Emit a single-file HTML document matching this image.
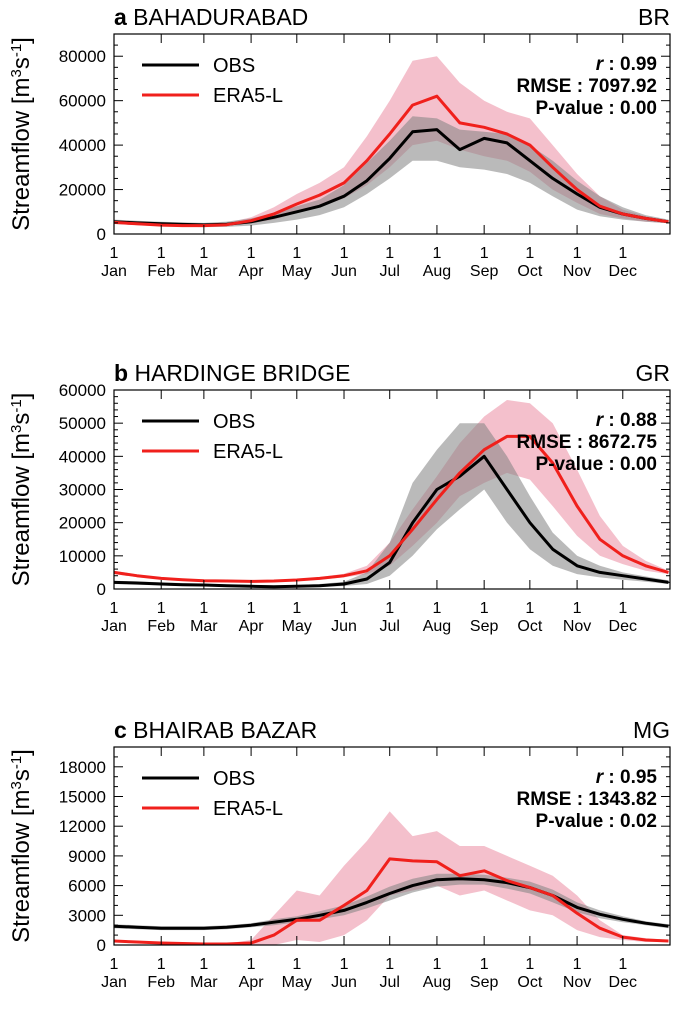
<!DOCTYPE html>
<html><head><meta charset="utf-8"><style>
html,body{margin:0;padding:0;background:#fff;}
svg{display:block;font-family:"Liberation Sans",Arial,sans-serif;}
</style></head><body>
<svg id="chart" width="685" height="1009" viewBox="0 0 685 1009" xmlns="http://www.w3.org/2000/svg"></svg>
<script>
const days = [0,15,31,45,59,74,90,105,120,135,151,166,181,196,212,227,243,258,273,288,304,319,334,349,364];
const monthLabels = ["Jan","Feb","Mar","Apr","May","Jun","Jul","Aug","Sep","Oct","Nov","Dec"];
const monthStarts = [0,31,59,90,120,151,181,212,243,273,304,334];

const aObsMean = [5500,5000,4600,4300,4100,4400,5500,7500,10000,12500,17000,24000,34000,46000,47000,38000,43000,41000,33000,25000,18000,12000,9000,7000,5500];
const aObsLo = [4500,4000,3600,3300,3100,3200,3800,5000,6500,8500,12000,18000,25000,33000,33000,30000,29000,27000,23000,17000,11000,8000,6500,5500,4800];
const aObsHi = [6500,6000,5500,5200,5000,5600,7000,9500,12500,15500,22000,32000,42000,53000,52000,47000,46000,45000,40000,33000,24000,17000,12000,8500,6500];
const aEraMean = [5200,4600,4000,3800,3800,4200,6000,9000,13500,17500,23000,33000,45000,58000,62000,50000,48000,45000,40000,30000,20000,12500,9000,7000,5500];
const aEraLo = [4600,4000,3500,3300,3300,3600,4800,6500,9500,12000,16000,22000,30000,40000,42000,38000,35000,33000,28000,20000,14000,9000,7000,5500,4800];
const aEraHi = [5800,5200,4600,4300,4400,5000,7500,12000,18000,23000,30000,44000,60000,78000,80000,68000,60000,55000,52000,40000,27000,17000,11000,8000,6200];

const bObsMean = [2000,1800,1500,1300,1200,1000,800,700,800,1000,1500,3000,8000,20000,30000,34000,40000,30000,20000,12000,7000,5000,4000,3000,2000];
const bObsLo = [1500,1300,1100,900,800,700,500,400,500,600,900,1500,4000,10000,18000,24000,30000,20000,12000,7000,4500,3500,2800,2200,1500];
const bObsHi = [2500,2300,2000,1800,1600,1400,1200,1100,1200,1500,2200,5000,14000,32000,42000,50000,50000,40000,28000,17000,10000,7000,5000,3800,2600];
const bEraMean = [5000,4000,3200,2800,2500,2400,2300,2400,2700,3200,4000,5500,10000,18000,27000,35000,42000,46000,46000,38000,25000,15000,10000,7000,5000];
const bEraLo = [4500,3600,2900,2500,2200,2100,2000,2100,2400,2800,3500,4500,7000,13000,20000,28000,32000,35000,33000,25000,16000,10000,7500,5500,4500];
const bEraHi = [5500,4400,3500,3100,2800,2700,2600,2700,3000,3600,4600,7000,14000,24000,34000,44000,52000,57000,56000,50000,36000,22000,13000,8500,5500];

const cObsMean = [1900,1800,1700,1700,1700,1800,2000,2300,2600,3000,3500,4300,5200,6000,6600,6700,6600,6300,5800,5000,3800,3100,2600,2200,1900];
const cObsLo = [1700,1600,1500,1500,1500,1600,1800,2000,2300,2600,3000,3700,4500,5300,5900,6100,6100,5700,5200,4300,3300,2700,2300,2000,1700];
const cObsHi = [2100,2000,1900,1900,1900,2000,2200,2600,2900,3400,4000,4900,5900,6700,7200,7200,7100,6800,6400,5600,4300,3500,2900,2400,2100];
const cEraMean = [400,300,200,150,100,100,200,1000,2500,2500,4000,5500,8700,8500,8400,7000,7500,6500,5800,5000,3200,1700,800,500,400];
const cEraLo = [350,250,150,100,50,50,0,0,500,300,1000,2500,5000,5500,6000,5000,5500,4500,3500,3000,1500,800,500,300,300];
const cEraHi = [450,350,250,200,150,150,500,3000,5500,5000,8000,10500,13500,11000,11500,10000,10000,9000,8000,7000,5000,2500,1000,700,500];

const panels = [
 {id:"a", letter:"a", title:"BAHADURABAD", code:"BR", top:34, bottom:234, ymax:90000, major:20000, minor:5000, r:"0.99", rmse:"7097.92", p:"0.00",
  om:aObsMean, ol:aObsLo, oh:aObsHi, em:aEraMean, el:aEraLo, eh:aEraHi},
 {id:"b", letter:"b", title:"HARDINGE BRIDGE", code:"GR", top:390, bottom:589, ymax:60000, major:10000, minor:2000, r:"0.88", rmse:"8672.75", p:"0.00",
  om:bObsMean, ol:bObsLo, oh:bObsHi, em:bEraMean, el:bEraLo, eh:bEraHi},
 {id:"c", letter:"c", title:"BHAIRAB BAZAR", code:"MG", top:747, bottom:945, ymax:20000, major:3000, minor:1000, r:"0.95", rmse:"1343.82", p:"0.02",
  om:cObsMean, ol:cObsLo, oh:cObsHi, em:cEraMean, el:cEraLo, eh:cEraHi, ytop:18000}
];
const svg = document.getElementById("chart");
const NS = "http://www.w3.org/2000/svg";
const L = 114, R = 670;
function mk(tag, attrs, parent){const e=document.createElementNS(NS,tag);for(const k in attrs)e.setAttribute(k,attrs[k]);(parent||svg).appendChild(e);return e;}
function xs(d){return L + d/365*(R-L);}

panels.forEach(P=>{
  const g = mk("g",{});
  
  
  const ys = v => P.bottom - v/P.ymax*(P.bottom-P.top);
  function band(lo,hi,fill,name){
    let d="M"+days.map((t,i)=>xs(t).toFixed(1)+","+ys(hi[i]).toFixed(1)).join(" L");
    for(let i=days.length-1;i>=0;i--) d+=" L"+xs(days[i]).toFixed(1)+","+ys(lo[i]).toFixed(1);
    const e=mk("path",{d:d+"Z",fill:fill,stroke:"none"},g);
    
    
  }
  function line(v,col,name){
    const e=mk("polyline",{points:days.map((t,i)=>xs(t).toFixed(1)+","+ys(v[i]).toFixed(1)).join(" "),fill:"none",stroke:col,"stroke-width":3,"stroke-linejoin":"round"},g);
    
    
  }
  band(P.el,P.eh,"rgba(236,150,170,0.6)","era5-range-band");
  band(P.ol,P.oh,"rgba(130,130,130,0.55)","obs-range-band");
  line(P.om,"#000","obs-line");
  line(P.em,"#f0201c","era5-line");
  const box=mk("rect",{x:L,y:P.top,width:R-L,height:P.bottom-P.top,fill:"none",stroke:"#000","stroke-width":1.2},g);
  
  
  for(let v=0; v<=P.ymax; v+=P.minor){
    const y=ys(v); const isMaj = v%P.major===0;
    const w = isMaj?9:4;
    mk("line",{x1:L,x2:L+w,y1:y,y2:y,stroke:"#000","stroke-width":1},g);
    mk("line",{x1:R,x2:R-w,y1:y,y2:y,stroke:"#000","stroke-width":1},g);
    if(isMaj && (!P.ytop || v<=P.ytop)){
      const t=mk("text",{x:L-8,y:y+6,"text-anchor":"end","font-size":17,fill:"#000"},g);
      t.textContent=v;
      
      
    }
  }
  monthStarts.forEach((m,i)=>{
    const x=xs(m);
    mk("line",{x1:x,x2:x,y1:P.bottom,y2:P.bottom-9,stroke:"#000","stroke-width":1},g);
    mk("line",{x1:x,x2:x,y1:P.top,y2:P.top+9,stroke:"#000","stroke-width":1},g);
    const t1=mk("text",{x:x,y:P.bottom+24,"text-anchor":"middle","font-size":16},g);
    t1.textContent="1";
    
    
    const t2=mk("text",{x:x,y:P.bottom+42,"text-anchor":"middle","font-size":16},g);
    t2.textContent=monthLabels[i];
    
    
  });
  const tt=mk("text",{x:L,y:P.top-9,"font-size":23},g);
  tt.innerHTML='<tspan font-weight="bold">'+P.letter+'</tspan> '+P.title;
  
  
  const tc=mk("text",{x:R,y:P.top-9,"font-size":23,"text-anchor":"end"},g);
  tc.textContent=P.code;
  
  
  const cy=(P.top+P.bottom)/2;
  const yt=mk("text",{x:0,y:0,"font-size":24,"text-anchor":"middle",transform:"translate(29,"+cy+") rotate(-90)"},g);
  yt.innerHTML='Streamflow [m<tspan baseline-shift="super" font-size="15">3</tspan>s<tspan baseline-shift="super" font-size="15">-1</tspan>]';
  
  
  const lg=mk("g",{},g);
  
  
  [["OBS","#000",31],["ERA5-L","#f0201c",61]].forEach(([lab,col,dy])=>{
    mk("line",{x1:142,x2:199,y1:P.top+dy,y2:P.top+dy,stroke:col,"stroke-width":3},lg);
    const t=mk("text",{x:213,y:P.top+dy+7,"font-size":20},lg);
    t.textContent=lab;
    
    
  });
  const st=[['<tspan font-style="italic">r</tspan> : '+P.r,29],['RMSE : '+P.rmse,51],['P-value : '+P.p,73]];
  st.forEach(([h,dy])=>{
    const t=mk("text",{x:657,y:P.top+dy+7,"font-size":19,"font-weight":"bold","text-anchor":"end"},g);
    t.innerHTML=h;
    
    
  });
});
</script>
</body></html>
